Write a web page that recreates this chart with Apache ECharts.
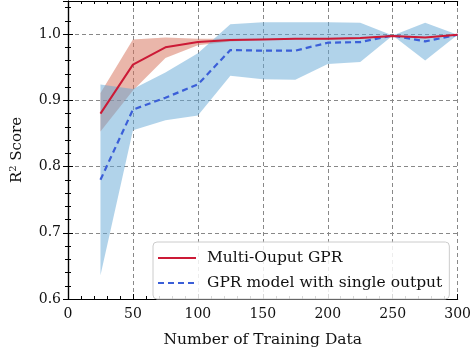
<!DOCTYPE html>
<html>
<head>
<meta charset="utf-8">
<script src="https://cdn.jsdelivr.net/npm/echarts@6/dist/echarts.min.js"></script>
<style>
  html, body { margin: 0; padding: 0; background: #fff; }
  #chart { width: 474px; height: 353px; }
</style>
</head>
<body>
<div id="chart"></div>
<script>
const trainSizes = [25, 50, 75, 100, 125, 150, 175, 200, 225, 250, 275, 300]

const multiMean = [0.880, 0.954, 0.980, 0.988, 0.991, 0.992, 0.993, 0.993, 0.994, 0.997, 0.995, 0.999]
const multiLow  = [0.853, 0.915, 0.964, 0.983, 0.989, 0.991, 0.992, 0.992, 0.993, 0.996, 0.994, 0.998]
const multiHigh = [0.911, 0.992, 0.995, 0.993, 0.993, 0.993, 0.994, 0.994, 0.995, 0.998, 0.996, 1.000]

const singleMean = [0.780, 0.886, 0.904, 0.924, 0.976, 0.975, 0.975, 0.987, 0.988, 0.998, 0.989, 0.999]
const singleLow  = [0.636, 0.855, 0.870, 0.877, 0.937, 0.932, 0.931, 0.955, 0.958, 0.998, 0.960, 0.999]
const singleHigh = [0.924, 0.917, 0.942, 0.971, 1.015, 1.018, 1.018, 1.018, 1.017, 0.998, 1.017, 0.999]

const xTicks = [0, 50, 100, 150, 200, 250, 300]
const yTicks = [0.6, 0.7, 0.8, 0.9, 1.0]

const FONT = 'DejaVu Serif'

const pairs = (ys) => trainSizes.map((x, i) => [x, ys[i]])

const tickStyle = { show: true, inside: true, length: 5, lineStyle: { color: '#000', width: 1 } }
const minorStyle = { show: true, splitNumber: 5, length: 3, lineStyle: { color: '#000', width: 1 } }

// shaded band between low and high, drawn as one polygon through the axes
function band(name, low, high, fill) {
  return {
    name, type: 'custom', silent: true, clip: true, z: 1,
    data: [[trainSizes[0], low[0]]],
    renderItem: (params, api) => {
      const top = trainSizes.map((x, i) => api.coord([x, high[i]]))
      const bottom = trainSizes.map((x, i) => api.coord([x, low[i]])).reverse()
      return { type: 'polygon', shape: { points: top.concat(bottom) }, style: { fill } }
    }
  }
}

const chart = echarts.init(document.getElementById('chart'))
chart.setOption({
  animation: false,
  textStyle: { fontFamily: FONT },
  grid: { left: 57, right: 12, top: 1, bottom: 49 },
  legend: {
    data: ['Multi-Ouput GPR', 'GPR model with single output'],
    orient: 'vertical',
    left: 153, top: 242,
    itemWidth: 38, itemHeight: 14, itemGap: 9,
    padding: [8, 7, 8, 4],
    backgroundColor: 'rgba(255,255,255,0.85)',
    borderColor: '#cccccc', borderWidth: 1, borderRadius: 4,
    itemStyle: { opacity: 0 },
    textStyle: { fontFamily: FONT, fontSize: 15.5, color: '#111', padding: [0, 0, 0, 6] }
  },
  xAxis: [{
    type: 'value', min: 0, max: 300, interval: 50,
    name: 'Number of Training Data', nameLocation: 'middle', nameGap: 33,
    nameTextStyle: { fontFamily: FONT, fontSize: 15.5, color: '#111' },
    axisLine: { show: true, lineStyle: { color: '#000', width: 1.2 } },
    axisTick: tickStyle, minorTick: minorStyle,
    axisLabel: { fontFamily: FONT, fontSize: 14, color: '#111', margin: 8,
      formatter: v => xTicks.includes(v) ? String(v) : '' },
    splitLine: { show: true, lineStyle: { color: '#888', type: [4, 3], width: 1 } }
  }, {
    type: 'value', min: 0, max: 300, interval: 50, position: 'top',
    axisLine: { show: true, lineStyle: { color: '#000', width: 1.2 } },
    axisTick: tickStyle, minorTick: minorStyle,
    axisLabel: { show: false }, splitLine: { show: false }
  }],
  yAxis: [{
    type: 'value', min: 0.6, max: 1.05, interval: 0.1,
    name: 'R{sup|2} Score', nameLocation: 'middle', nameGap: 42, nameRotate: 90,
    nameTextStyle: { fontFamily: FONT, fontSize: 15, color: '#111',
      rich: { sup: { fontFamily: FONT, fontSize: 10, verticalAlign: 'top', padding: [0, 0, 8, 0] } } },
    axisLine: { show: true, lineStyle: { color: '#000', width: 1.2 } },
    axisTick: tickStyle, minorTick: minorStyle,
    axisLabel: { fontFamily: FONT, fontSize: 14, color: '#111', margin: 7,
      formatter: v => yTicks.some(t => Math.abs(t - v) < 1e-6) ? v.toFixed(1) : '' },
    splitLine: { show: true, lineStyle: { color: '#888', type: [4, 3], width: 1 } }
  }, {
    type: 'value', min: 0.6, max: 1.05, interval: 0.1, position: 'right',
    axisLine: { show: true, lineStyle: { color: '#000', width: 1.2 } },
    axisTick: tickStyle, minorTick: minorStyle,
    axisLabel: { show: false }, splitLine: { show: false }
  }],
  series: [
    band('multiBand', multiLow, multiHigh, 'rgba(214,110,85,0.5)'),
    band('singleBand', singleLow, singleHigh, 'rgba(100,168,214,0.5)'),
    {
      name: 'Multi-Ouput GPR', type: 'line', data: pairs(multiMean), symbol: 'none',
      itemStyle: { color: '#cc1a36' },
      lineStyle: { color: '#cc1a36', width: 2 }, z: 5
    },
    {
      name: 'GPR model with single output', type: 'line', data: pairs(singleMean), symbol: 'none',
      itemStyle: { color: '#3b5fd8' },
      lineStyle: { color: '#3b5fd8', width: 2.2, type: [6, 4] }, z: 4
    }
  ]
})
</script>
</body>
</html>
